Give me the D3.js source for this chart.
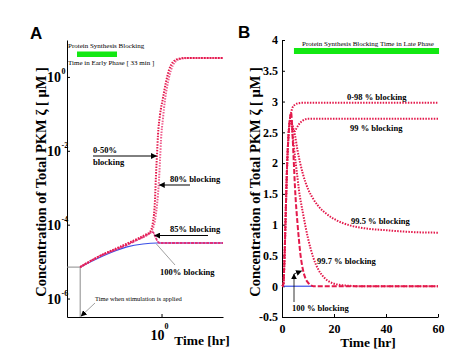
<!DOCTYPE html>
<html>
<head>
<meta charset="utf-8">
<script src="https://cdn.jsdelivr.net/npm/d3@7"></script>
<style>
  body { margin: 0; background: #fff; }
  text { font-family: "Liberation Serif", "Times New Roman", serif; }
</style>
</head>
<body>
<svg id="chart" width="474" height="361"></svg>
<script>

// ---- panel A : early phase, log time [hr] vs log concentration [uM] ----
const earlyBlock0to50 = [[0.019, 7.1e-6], [0.05, 1.42e-5], [0.132, 2.5e-5], [0.275, 3.84e-5], [0.447, 5.25e-5],
                         [0.57, 6.33e-5], [0.66, 1.18e-4], [0.728, 4.65e-4], [0.764, 2.21e-3], [0.802, 7.7e-3],
                         [0.842, 2.68e-2], [0.929, 9.3e-2], [1.075, 0.27], [1.244, 0.73], [1.44, 1.54],
                         [1.75, 2.54], [2.23, 3.06], [3.14, 3.25], [20, 3.25]];
const earlyBlock80 = [[0.019, 7.1e-6], [0.05, 1.42e-5], [0.132, 2.5e-5], [0.275, 3.84e-5], [0.447, 4.9e-5],
                      [0.57, 5.95e-5], [0.693, 9.8e-5], [0.802, 3.4e-4], [0.884, 1.62e-3], [0.929, 5.6e-3],
                      [0.975, 1.96e-2], [1.075, 7.7e-2], [1.185, 0.237], [1.372, 0.73], [1.587, 1.54],
                      [1.93, 2.54], [2.46, 3.06], [3.64, 3.25], [20, 3.25]];
const earlyBlock85 = [[0.019, 7.1e-6], [0.05, 1.42e-5], [0.132, 2.34e-5], [0.275, 3.6e-5], [0.447, 4.9e-5],
                      [0.57, 5.95e-5], [0.66, 6.3e-5], [0.728, 4.9e-5], [0.842, 3.4e-5], [0.929, 3.19e-5],
                      [20, 3.19e-5]];
const earlyBlock100 = [[0.019, 7.1e-6], [0.081, 1.71e-5], [0.186, 2.5e-5], [0.406, 3.0e-5], [0.802, 3.19e-5],
                       [20, 3.19e-5]];
const stimTime = 0.019;
const baseConc = 7.1e-6;
const earlyYTicks = [1, 1e-2, 1e-4, 1e-6];
const earlyYTickExp = ["0", "-2", "-4", "-6"];

// ---- panel B : late phase, time [hr] vs concentration [uM] ----
const lateBlock0to98 = [[0, 0], [0.5, 0.02], [1, 0.5], [1.5, 1.3], [2, 2.0], [2.5, 2.45], [3, 2.7],
                        [3.5, 2.82], [4, 2.9], [5, 2.95], [6, 2.97], [8, 2.98], [60, 2.98]];
const lateBlock99 = [[0, 0], [0.5, 0.02], [1, 0.5], [1.5, 1.3], [2, 2.0], [2.5, 2.45], [3, 2.68],
                     [3.5, 2.7], [4, 2.6], [4.5, 2.52], [5, 2.52], [5.5, 2.56], [6.5, 2.63], [8, 2.69],
                     [10, 2.72], [60, 2.72]];
const lateBlock995 = [[3.5, 2.7], [4, 2.62], [5, 2.45], [6, 2.2], [7, 2.0], [8, 1.83], [10, 1.58], [12, 1.42],
                      [14, 1.3], [17, 1.18], [21, 1.07], [26, 0.99], [32, 0.94], [40, 0.91], [50, 0.88], [60, 0.87]];
const lateBlock997 = [[3.5, 2.7], [4, 2.5], [5, 2.1], [6, 1.75], [6.5, 1.57], [8, 1.2], [10, 0.78], [12, 0.47],
                      [14, 0.27], [16, 0.15], [18, 0.08], [21, 0.03], [25, 0.01], [30, 0], [60, 0]];
const lateBlock100 = [[0, 0], [0.5, 0.02], [1, 0.5], [1.5, 1.3], [2, 2.0], [2.5, 2.45], [3, 2.7], [3.5, 2.82],
                      [4, 2.5], [4.5, 2.05], [5, 1.6], [6, 1.0], [6.5, 0.76], [7, 0.55], [8, 0.28], [9, 0.13],
                      [10, 0.06], [11, 0.02], [12, 0], [60, 0]];
const lateBaseline = [[0, 0], [12, 0]];
const lateXTicks = [0, 20, 40, 60];
const lateYTicks = [-0.5, 0, 0.5, 1, 1.5, 2, 2.5, 3, 3.5, 4];

const red = "#e3194b";
const blue = "#3a4fe6";
const green = "#12e812";

let svg = d3.select("#chart");

svg.append("defs").append("marker")
   .attr("id", "head")
   .attr("viewBox", "0 0 10 10")
   .attr("refX", 9).attr("refY", 5)
   .attr("markerWidth", 6).attr("markerHeight", 6)
   .attr("markerUnits", "userSpaceOnUse")
   .attr("orient", "auto")
   .append("path").attr("d", "M0,0L10,5L0,10z").attr("fill", "#000");

// ================= panel A =================
let xA = d3.scaleLog().domain([0.01, 20]).range([67, 223]);
let yA = d3.scaleLog().domain([Math.pow(10, -6.5), 10]).range([317, 40]);

let gA = svg.append("g").attr("id", "panelA");

gA.append("g")
  .attr("transform", "translate(" + xA.range()[0] + ",0)")
  .call(d3.axisLeft(yA).tickValues(earlyYTicks).tickFormat("").tickSizeInner(-3).tickSizeOuter(0));
gA.append("g")
  .attr("transform", "translate(0," + yA.range()[0] + ")")
  .call(d3.axisBottom(xA).tickValues([1]).tickFormat("").tickSizeInner(-3).tickSizeOuter(0));

gA.selectAll(".ylab")
  .data(earlyYTicks)
  .join("text")
  .attr("class", "ylab")
  .attr("x", 61)
  .attr("y", d => yA(d) + 5)
  .attr("text-anchor", "end")
  .style("font-size", "14px").style("font-weight", "bold")
  .text("10");
gA.selectAll(".yexp")
  .data(earlyYTicks)
  .join("text")
  .attr("class", "yexp")
  .attr("x", 61.5)
  .attr("y", d => yA(d) - 3)
  .style("font-size", "8px").style("font-weight", "bold")
  .text((d, i) => earlyYTickExp[i]);

gA.append("text").attr("x", xA(1) - 4).attr("y", 340).attr("text-anchor", "middle")
  .style("font-size", "14px").style("font-weight", "bold").text("10");
gA.append("text").attr("x", xA(1) + 3).attr("y", 329)
  .style("font-size", "8px").style("font-weight", "bold").text("0");
gA.append("text").attr("x", 202).attr("y", 345).attr("text-anchor", "middle")
  .style("font-size", "13.5px").style("font-weight", "bold").text("Time [hr]");

// stimulation baseline
gA.append("path")
  .attr("d", d3.line()([[xA(0.01), yA(baseConc)], [xA(stimTime), yA(baseConc)], [xA(stimTime), yA.range()[0]]]))
  .attr("fill", "none").attr("stroke", "#8a8a8a").attr("stroke-width", 1);

let lineA = d3.line().x(d => xA(d[0])).y(d => yA(d[1])).curve(d3.curveMonotoneX);

gA.append("path").datum(earlyBlock100).attr("d", lineA)
  .attr("fill", "none").attr("stroke", blue).attr("stroke-width", 1.2);
gA.append("path").datum(earlyBlock85).attr("d", lineA)
  .attr("fill", "none").attr("stroke", "#e0307a").attr("stroke-width", 1.8).attr("stroke-dasharray", "3,0.8");
gA.append("path").datum(earlyBlock80).attr("d", lineA)
  .attr("fill", "none").attr("stroke", "#ef5d8d").attr("stroke-width", 2).attr("stroke-dasharray", "1.5,1.3");
gA.append("path").datum(earlyBlock0to50).attr("d", lineA)
  .attr("fill", "none").attr("stroke", red).attr("stroke-width", 2).attr("stroke-dasharray", "1.5,1.3");

// green blocking bar and text
gA.append("rect").attr("x", 77).attr("y", 51.5).attr("width", 40).attr("height", 5.5).attr("fill", green);
gA.append("text").attr("x", 68).attr("y", 47.5).style("font-size", "7px").text("Protein Synthesis Blocking");
gA.append("text").attr("x", 68).attr("y", 65).style("font-size", "7px").text("Time in Early Phase [ 33 min ]");

// annotations
let annA = gA.append("g").style("font-size", "8.5px").style("font-weight", "bold");
annA.append("text").attr("x", 93).attr("y", 153).text("0-50%");
annA.append("text").attr("x", 93).attr("y", 165).text("blocking");
annA.append("line").attr("x1", 93).attr("y1", 156).attr("x2", xA(0.78)).attr("y2", 156)
    .attr("stroke", "#000").attr("stroke-width", 1).attr("marker-end", "url(#head)");
annA.append("text").attr("x", 170).attr("y", 182).text("80% blocking");
annA.append("line").attr("x1", 190).attr("y1", 185).attr("x2", xA(0.9)).attr("y2", 185)
    .attr("stroke", "#000").attr("stroke-width", 1).attr("marker-end", "url(#head)");
annA.append("text").attr("x", 170).attr("y", 232).text("85% blocking");
annA.append("line").attr("x1", 208).attr("y1", 235.5).attr("x2", xA(0.72)).attr("y2", 235.5)
    .attr("stroke", "#000").attr("stroke-width", 1).attr("marker-end", "url(#head)");
annA.append("text").attr("x", 160).attr("y", 275).text("100% blocking");
annA.append("line").attr("x1", 175).attr("y1", 265).attr("x2", xA(0.78)).attr("y2", yA(3.19e-5) + 1)
    .attr("stroke", "#777").attr("stroke-width", 0.7);
gA.append("text").attr("x", 95).attr("y", 301).style("font-size", "6.5px").text("Time when stimulation is applied");
gA.append("line").attr("x1", 95).attr("y1", 303).attr("x2", xA(stimTime) + 1).attr("y2", 316)
  .attr("stroke", "#777").attr("stroke-width", 0.7).attr("marker-end", "url(#head)");

gA.append("text")
  .attr("transform", "translate(46,182) rotate(-90)")
  .attr("text-anchor", "middle")
  .style("font-size", "14.5px").style("font-weight", "bold")
  .text("Concentration of Total PKM \u03b6 [ \u03bcM ]");
gA.append("text").attr("x", 30).attr("y", 39)
  .style("font-family", "Liberation Sans, Arial, sans-serif").style("font-size", "17px").style("font-weight", "bold")
  .text("A");

// ================= panel B =================
let xB = d3.scaleLinear().domain([0, 60]).range([282, 438]);
let yB = d3.scaleLinear().domain([-0.5, 4]).range([317, 40]);

let gB = svg.append("g").attr("id", "panelB");

gB.append("g")
  .attr("class", "axisB")
  .attr("transform", "translate(" + xB.range()[0] + ",0)")
  .call(d3.axisLeft(yB).tickValues(lateYTicks).tickFormat(d => d).tickSizeInner(-3).tickSizeOuter(0).tickPadding(4));
gB.append("g")
  .attr("class", "axisB")
  .attr("transform", "translate(0," + yB.range()[0] + ")")
  .call(d3.axisBottom(xB).tickValues(lateXTicks).tickSizeInner(-3).tickSizeOuter(0).tickPadding(7));
gB.selectAll(".axisB text")
  .style("font-family", "Liberation Serif, Times New Roman, serif")
  .style("font-size", "12px").style("font-weight", "bold").attr("fill", "#000");

gB.append("text").attr("x", 368).attr("y", 347).attr("text-anchor", "middle")
  .style("font-size", "13.5px").style("font-weight", "bold").text("Time [hr]");

gB.append("rect").attr("x", xB(4.6)).attr("y", 48).attr("width", xB(60.4) - xB(4.6)).attr("height", 6).attr("fill", green);
gB.append("text").attr("x", 368).attr("y", 46).attr("text-anchor", "middle")
  .style("font-size", "7px").text("Protein Synthesis Blocking Time in Late Phase");

let lineB = d3.line().x(d => xB(d[0])).y(d => yB(d[1])).curve(d3.curveMonotoneX);

gB.append("path").datum(lateBaseline).attr("d", lineB)
  .attr("fill", "none").attr("stroke", blue).attr("stroke-width", 1.2);
[lateBlock0to98, lateBlock99, lateBlock995, lateBlock997].forEach(s => {
  gB.append("path").datum(s).attr("d", lineB)
    .attr("fill", "none").attr("stroke", red).attr("stroke-width", 2).attr("stroke-dasharray", "1.5,1.3");
});
gB.append("path").datum(lateBlock100).attr("d", lineB)
  .attr("fill", "none").attr("stroke", red).attr("stroke-width", 2).attr("stroke-dasharray", "5,2");

let annB = gB.append("g").style("font-size", "8.5px").style("font-weight", "bold");
annB.append("text").attr("x", 347).attr("y", 100).text("0-98 % blocking");
annB.append("text").attr("x", 350).attr("y", 131).text("99 % blocking");
annB.append("text").attr("x", 351).attr("y", 224).text("99.5 % blocking");
annB.append("text").attr("x", 317).attr("y", 264).text("99.7 % blocking");
annB.append("text").attr("x", 292).attr("y", 311).text("100 % blocking");
annB.append("line").attr("x1", 294).attr("y1", 302).attr("x2", 294).attr("y2", 274)
    .attr("stroke", "#000").attr("stroke-width", 0.8).attr("marker-end", "url(#head)");
annB.append("line").attr("x1", 294).attr("y1", 274).attr("x2", xB(7.5)).attr("y2", 271)
    .attr("stroke", "#000").attr("stroke-width", 0.8).attr("marker-end", "url(#head)");

gB.append("text")
  .attr("transform", "translate(260,182) rotate(-90)")
  .attr("text-anchor", "middle")
  .style("font-size", "14.5px").style("font-weight", "bold")
  .text("Concentration of Total PKM \u03b6 [ \u03bcM ]");
gB.append("text").attr("x", 238).attr("y", 38)
  .style("font-family", "Liberation Sans, Arial, sans-serif").style("font-size", "17px").style("font-weight", "bold")
  .text("B");

</script>
</body>
</html>
